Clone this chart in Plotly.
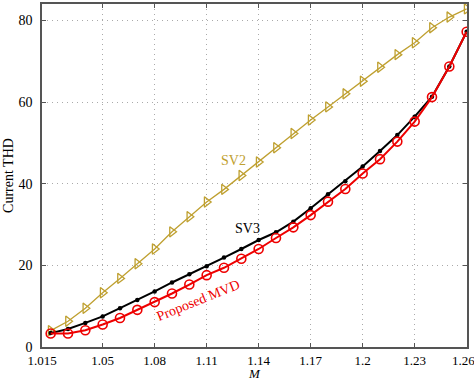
import plotly.graph_objects as go

M = [1.02, 1.03, 1.04, 1.05, 1.06, 1.07, 1.08, 1.09, 1.10, 1.11, 1.12, 1.13,
     1.14, 1.15, 1.16, 1.17, 1.18, 1.19, 1.20, 1.21, 1.22, 1.23, 1.24, 1.25, 1.26]

sv2 = [4.0, 6.3, 9.5, 13.3, 16.8, 20.4, 24.0, 28.2, 31.9, 35.5, 38.6, 42.0,
       45.3, 48.8, 52.3, 55.6, 58.8, 62.0, 65.1, 68.5, 71.6, 74.5, 78.2, 80.8, 82.8]

sv3 = [3.4, 4.4, 5.9, 7.5, 9.5, 11.5, 13.6, 15.8, 17.8, 19.8, 21.9, 24.0,
       26.2, 28.1, 30.7, 34.0, 37.4, 40.6, 44.2, 48.0, 51.9, 56.4, 61.3, 68.7, 77.2]

mvd = [3.3, 3.3, 4.1, 5.5, 7.1, 9.1, 11.0, 13.1, 15.3, 17.6, 19.4, 21.6,
       24.0, 26.7, 29.3, 32.3, 35.6, 38.7, 42.5, 46.0, 50.3, 55.2, 61.2, 68.7, 77.2]

x_ticks = [1.015, 1.05, 1.08, 1.11, 1.14, 1.17, 1.2, 1.23, 1.26]
x_ticklabels = ["1.015", "1.05", "1.08", "1.11", "1.14", "1.17", "1.2", "1.23",
                "1.26\u2002"]
y_ticks = [0, 20, 40, 60, 80]

GOLD = "#BFA030"
FONT = "Liberation Serif"

fig = go.Figure()
fig.add_trace(go.Scatter(x=M, y=sv2, mode="lines+markers", name="SV2",
                         line=dict(color=GOLD, width=1.3),
                         marker=dict(symbol="triangle-right-open", size=9,
                                     color=GOLD, line=dict(width=1.3))))
fig.add_trace(go.Scatter(x=M, y=sv3, mode="lines+markers", name="SV3",
                         line=dict(color="black", width=2),
                         marker=dict(symbol="circle", size=4.5, color="black")))
fig.add_trace(go.Scatter(x=M, y=mvd, mode="lines+markers", name="Proposed MVD",
                         line=dict(color="#EE0000", width=2),
                         marker=dict(symbol="circle-open", size=9,
                                     color="#EE0000", line=dict(width=1.6))))

fig.add_annotation(x=1.1255, y=45.6, text="SV2", showarrow=False,
                   font=dict(family=FONT, size=14, color=GOLD))
fig.add_annotation(x=1.1333, y=28.9, text="SV3", showarrow=False,
                   font=dict(family=FONT, size=14, color="black"))
fig.add_annotation(x=1.105, y=11.4, text="Proposed MVD", showarrow=False,
                   textangle=-22,
                   font=dict(family=FONT, size=14, color="#EE0000"))

axis_common = dict(showline=True, linecolor="#555555", linewidth=1.5,
                   mirror="ticks", ticks="inside", ticklen=4, tickcolor="#555555",
                   showgrid=True, gridcolor="#aaaaaa", griddash="1px,4px", gridwidth=1,
                   zeroline=False)

fig.update_xaxes(range=[1.015, 1.2602], tickvals=x_ticks, ticktext=x_ticklabels,
                 ticklabelstandoff=1, ticklabeloverflow="allow", automargin="height",
                 tickfont=dict(family=FONT, size=13, color="black"),
                 title=dict(text="<i>M</i>", font=dict(family=FONT, size=13, color="black"),
                            standoff=0),
                 **axis_common)
fig.update_yaxes(range=[0, 84], tickvals=y_ticks, ticklabelstandoff=5, automargin=False,
                 tickfont=dict(family=FONT, size=14, color="black"),
                 title=dict(text="Current THD", font=dict(family=FONT, size=14, color="black"),
                            standoff=2),
                 **axis_common)

fig.update_layout(width=474, height=381, showlegend=False,
                  margin=dict(l=42, r=7, t=2, b=34),
                  plot_bgcolor="white", paper_bgcolor="white")

fig.write_html("out.html", config={"displayModeBar": False},
               post_script="document.body.style.margin='0';document.body.style.padding='0';")
